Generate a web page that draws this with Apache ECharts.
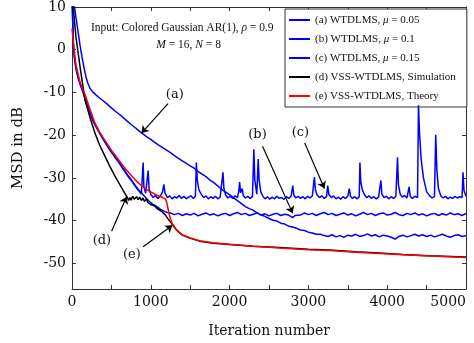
<!DOCTYPE html>
<html><head><meta charset="utf-8">
<script src="https://cdn.jsdelivr.net/npm/echarts@6/dist/echarts.min.js"></script>
<style>html,body{margin:0;padding:0;background:#fff}#c{width:474px;height:343px}</style>
</head><body><div id="c"></div>
<script>
const seriesNames = ['(a) WTDLMS, μ = 0.05', '(b) WTDLMS, μ = 0.1', '(c) WTDLMS, μ = 0.15', '(d) VSS-WTDLMS, Simulation', '(e) VSS-WTDLMS, Theory'];

// (a) WTDLMS mu = 0.05  [iteration, MSD dB]
const msdA = [[0,13],[25,11],[50,7.5],[75,4.5],[100,1.3],[125,-1.5],[150,-4],[175,-6.2],[200,-7.8],[228,-9],[260,-9.8],[300,-10.5],[350,-11.3],[400,-12],[450,-12.8],[500,-13.6],[550,-14.4],[600,-15.1],[650,-15.9],[700,-16.7],[750,-17.5],[800,-18.2],[850,-19],[900,-19.7],[950,-20.4],[1000,-21],[1050,-21.7],[1100,-22.3],[1150,-22.9],[1200,-23.5],[1250,-24.1],[1300,-24.8],[1350,-25.4],[1400,-26],[1450,-26.6],[1500,-27.2],[1550,-27.7],[1600,-28.5],[1650,-29.1],[1700,-29.7],[1750,-30.5],[1800,-31.1],[1850,-31.9],[1900,-32.7],[1950,-33.3],[2000,-33.9],[2050,-34.7],[2100,-35.3],[2150,-36],[2200,-36.7],[2250,-37.2],[2300,-37.6],[2350,-38.2],[2400,-38.7],[2450,-39],[2500,-39.5],[2550,-39.9],[2600,-40.1],[2650,-40.6],[2700,-40.8],[2750,-41.3],[2800,-41.5],[2850,-41.8],[2900,-42.2],[2950,-42.3],[3000,-42.7],[3050,-42.9],[3100,-43.2],[3150,-43.2],[3200,-43.5],[3250,-43.7],[3300,-43.3],[3350,-43.8],[3400,-43.5],[3450,-43.9],[3500,-43.4],[3550,-43.6],[3600,-43.2],[3650,-43.7],[3700,-43.5],[3750,-43.1],[3800,-43.6],[3850,-43.3],[3900,-43.8],[3950,-43.4],[4000,-43.6],[4050,-43.9],[4100,-44.3],[4150,-43.7],[4200,-43.4],[4250,-43.8],[4300,-43.5],[4350,-43.2],[4400,-43.6],[4450,-43.3],[4500,-43.7],[4550,-43.4],[4600,-43.8],[4650,-43.5],[4700,-43.2],[4750,-43.6],[4800,-43.9],[4850,-43.5],[4900,-43.3],[4950,-43.7],[5000,-43.5]];

// (b) WTDLMS mu = 0.1
const msdB = [[0,13],[8,7.5],[17,2],[30,-1.5],[50,-4],[80,-6.5],[110,-8.2],[140,-9.8],[170,-11.5],[200,-13.2],[230,-14.8],[260,-16.2],[291,-17.4],[330,-18.7],[370,-20],[418,-21.5],[460,-22.7],[500,-23.8],[550,-25.1],[586,-26],[630,-27.2],[670,-28.3],[710,-29.4],[755,-30.5],[790,-31.4],[820,-32.2],[850,-32.9],[880,-33.5],[910,-34.1],[940,-34.7],[970,-35.3],[1000,-35.8],[1030,-36.2],[1060,-36.5],[1090,-36.9],[1120,-37.3],[1150,-37.6],[1180,-37.9],[1210,-38.1],[1250,-38.2],[1300,-38.6],[1350,-38.3],[1400,-38.8],[1450,-38.4],[1500,-38.7],[1550,-38.3],[1600,-38.9],[1650,-38.5],[1700,-38.2],[1750,-38.7],[1800,-38.4],[1850,-38.9],[1900,-38.5],[1950,-38.3],[2000,-38.8],[2050,-38.4],[2100,-38.1],[2150,-38.6],[2200,-38.3],[2250,-38.8],[2300,-38.5],[2350,-38.2],[2400,-38.7],[2450,-38.4],[2500,-38.9],[2550,-38.5],[2600,-38.3],[2650,-38.8],[2700,-38.5],[2750,-38.7],[2800,-39.3],[2830,-38.8],[2850,-38.4],[2900,-38.7],[2950,-38.2],[3000,-38.6],[3050,-38.3],[3100,-38.8],[3150,-38.4],[3200,-38.1],[3250,-38.6],[3300,-38.3],[3350,-38.8],[3400,-38.5],[3450,-38.2],[3500,-38.7],[3550,-38.4],[3600,-38.9],[3650,-38.5],[3700,-38.1],[3750,-38.6],[3800,-38.3],[3850,-38.8],[3900,-38.4],[3950,-38.2],[4000,-38.7],[4050,-38.5],[4100,-38.1],[4150,-38.6],[4200,-38.8],[4250,-38.3],[4300,-38.6],[4350,-38.2],[4400,-38.7],[4450,-38.4],[4500,-38.9],[4550,-38.5],[4600,-38.3],[4650,-38.8],[4700,-38.4],[4750,-38.7],[4800,-38.2],[4850,-38.6],[4900,-38.4],[4950,-38.8],[5000,-38.3]];

// (c) WTDLMS mu = 0.15
const msdC = [[0,13],[8,7],[17,1],[30,-2],[50,-4.5],[80,-6.8],[110,-8.5],[140,-10],[170,-11.8],[200,-13.5],[230,-15],[260,-16.4],[291,-17.6],[330,-18.9],[370,-20.2],[418,-21.7],[460,-22.9],[500,-24],[550,-25.3],[586,-26.2],[630,-27.4],[670,-28.5],[710,-29.6],[755,-30.7],[790,-31.6],[820,-32.4],[850,-33.1],[880,-33.8],[903,-26.4],[912,-32],[935,-33.6],[966,-28.3],[978,-32.5],[1000,-33.9],[1030,-34.6],[1060,-34.1],[1090,-34.8],[1120,-34.3],[1150,-33.2],[1165,-31.5],[1180,-33.5],[1210,-34.6],[1240,-34.2],[1270,-34.9],[1300,-34.4],[1330,-34.7],[1360,-34.1],[1390,-34.8],[1420,-34.3],[1450,-34.9],[1480,-34.5],[1510,-34.2],[1540,-34.8],[1566,-34.3],[1578,-26.4],[1590,-30.5],[1610,-32.8],[1640,-33.8],[1670,-34.6],[1700,-34.2],[1730,-34.9],[1760,-34.4],[1790,-34.8],[1820,-34.3],[1850,-34.9],[1880,-34.5],[1905,-34.2],[1916,-28.7],[1928,-32.5],[1950,-34],[1980,-34.7],[2010,-34.3],[2040,-34.8],[2070,-34.2],[2100,-34.6],[2118,-33],[2127,-31],[2140,-33.5],[2160,-32.5],[2175,-34.2],[2200,-34.7],[2230,-34.3],[2260,-34.8],[2290,-34.4],[2308,-23.3],[2320,-30.5],[2345,-33.8],[2363,-25.6],[2375,-30.5],[2395,-33.2],[2420,-34.2],[2450,-34.9],[2480,-34.4],[2510,-35],[2540,-34.5],[2570,-34.9],[2600,-34.3],[2630,-34.8],[2660,-34.6],[2690,-35],[2720,-34.4],[2750,-34.8],[2780,-34.3],[2802,-31.8],[2815,-34],[2840,-34.7],[2870,-34.3],[2900,-34.8],[2930,-34.4],[2960,-34.9],[2990,-34.3],[3020,-34.7],[3050,-34.2],[3076,-29.8],[3090,-32.8],[3110,-34],[3140,-34.6],[3170,-34.2],[3200,-34.8],[3230,-34.4],[3245,-31.8],[3260,-33.9],[3290,-34.6],[3320,-34.2],[3350,-34.9],[3380,-34.5],[3410,-35],[3440,-34.4],[3470,-34.8],[3500,-34.3],[3519,-32.5],[3535,-34.3],[3560,-34.8],[3590,-34.4],[3620,-34.9],[3645,-34.4],[3654,-26.4],[3665,-31],[3685,-32.8],[3710,-33.9],[3740,-34.6],[3770,-34.2],[3800,-34.8],[3830,-34.4],[3860,-34.9],[3890,-34.5],[3910,-34.3],[3920,-30.6],[3932,-33.8],[3960,-34.6],[3990,-34.3],[4020,-34.9],[4050,-34.4],[4080,-34.8],[4110,-34.3],[4131,-25.2],[4142,-31.5],[4165,-33.8],[4190,-34.5],[4220,-34.1],[4250,-34.7],[4278,-32.1],[4292,-34.3],[4320,-34.8],[4350,-34.3],[4385,-34.6],[4397,-13],[4410,-19.5],[4430,-25.5],[4460,-30],[4500,-33.2],[4540,-34.2],[4570,-34.7],[4600,-34.3],[4616,-19.9],[4630,-28],[4650,-32.5],[4680,-34.2],[4710,-34.7],[4740,-34.3],[4770,-34.9],[4800,-34.5],[4830,-34.8],[4860,-34.3],[4890,-34.7],[4920,-34.4],[4950,-34.6],[4962,-28.7],[4975,-33],[5000,-34.3]];

// (d) VSS-WTDLMS simulation
const msdD = [[0,13],[20,9],[50,3],[80,-1],[110,-5],[143,-9],[165,-11.8],[230,-16],[291,-19.5],[350,-22.3],[418,-24.9],[480,-27.3],[544,-29.5],[608,-31.6],[650,-33],[671,-33.6],[700,-34.5],[720,-35.3],[734,-34.6],[750,-35.2],[770,-34.3],[790,-35],[819,-34.4],[840,-35.1],[860,-34.5],[880,-35.3],[900,-34.7],[920,-35.5],[945,-34.9],[965,-35.8],[987,-35.5],[1005,-36.3],[1029,-35.9],[1050,-36.6],[1070,-36.5],[1090,-37.3],[1114,-37],[1135,-37.8],[1160,-37.7],[1180,-38.6],[1199,-38.6],[1220,-39.6],[1240,-39.3],[1270,-40.8],[1325,-42.2],[1400,-43.4],[1494,-44.1],[1620,-44.8],[1789,-45.3],[2000,-45.6],[2300,-46],[2633,-46.3],[3000,-46.7],[3266,-46.9],[3600,-47.3],[3899,-47.6],[4200,-47.9],[4532,-48.2],[5000,-48.5]];

// (e) VSS-WTDLMS theory
const msdE = [[0,5],[20,1],[50,-3.5],[100,-7.5],[165,-10.5],[230,-14],[291,-17.2],[350,-19.3],[418,-21.2],[500,-23.5],[586,-25.6],[670,-27.7],[755,-29.5],[830,-31],[903,-32.1],[980,-33.1],[1072,-34],[1150,-34.6],[1190,-35],[1205,-36],[1240,-39],[1270,-40.6],[1325,-42.1],[1400,-43.3],[1494,-44],[1620,-44.7],[1789,-45.2],[2000,-45.5],[2300,-46],[2633,-46.4],[3000,-46.8],[3266,-47],[3600,-47.4],[3899,-47.7],[4200,-48],[4532,-48.3],[5000,-48.6]];

const seriesData = [msdA, msdB, msdC, msdD, msdE];
const seriesColors = ['#0000ff', '#0000ff', '#0000ff', '#000000', '#ff0000'];

// annotation arrows: [from, to] in data coordinates
const arrows = [
  [[1219, -12.6], [882, -19.5]],
  [[2418, -22.6], [2801, -38.3]],
  [[2953, -21.8], [3203, -32.5]],
  [[503, -42.5], [692, -34.4]],
  [[903, -46.1], [1275, -41.1]]
];
const labelTexts = ['(a)', '(b)', '(c)', '(d)', '(e)'];
const labelAnchors = [[1304, -10.5], [2354, -19.9], [2899, -19.4], [380, -44.7], [760, -47.9]];

const tickFont = 'DejaVu Serif';
const textFont = 'Liberation Serif';
const axisColor = '#333';

const chart = echarts.init(document.getElementById('c'));

function baseAxis(extra) {
  return Object.assign({
    type: 'value',
    axisLine: { show: true, onZero: false, lineStyle: { color: axisColor, width: 1 } },
    axisTick: { show: true, inside: true, length: 4, lineStyle: { color: axisColor, width: 1 } },
    splitLine: { show: false }
  }, extra);
}

const option = {
  animation: false,
  backgroundColor: '#fff',
  grid: { left: 72, right: 8, top: 5, bottom: 51 },
  xAxis: [
    baseAxis({
      min: 0, max: 5000, interval: 500, position: 'bottom',
      axisLabel: { formatter: v => (v % 1000 === 0 ? String(v) : ''), color: '#111', fontFamily: tickFont, fontSize: 14, margin: 6, alignMaxLabel: 'right' },
      name: 'Iteration number', nameLocation: 'middle', nameGap: 35,
      nameTextStyle: { color: '#111', fontFamily: tickFont, fontSize: 14 }
    }),
    baseAxis({ min: 0, max: 5000, interval: 500, position: 'top', axisLabel: { show: false } })
  ],
  yAxis: [
    baseAxis({
      min: -56, max: 10, splitNumber: 6, position: 'left',
      axisLabel: { formatter: v => (v % 10 === 0 ? String(v) : ''), color: '#111', fontFamily: tickFont, fontSize: 14, margin: 6 },
      name: 'MSD in dB', nameLocation: 'middle', nameGap: 46, nameRotate: 90,
      nameTextStyle: { color: '#111', fontFamily: tickFont, fontSize: 15 }
    }),
    baseAxis({ min: -56, max: 10, splitNumber: 6, position: 'right', axisLabel: { show: false } })
  ],
  legend: {
    orient: 'vertical', left: 285, top: 9,
    backgroundColor: '#fff', borderColor: '#333', borderWidth: 1,
    padding: [5, 11, 5, 4], itemGap: 7,
    icon: 'rect', itemWidth: 21, itemHeight: 2,
    data: seriesNames,
    formatter: n => n.replace('μ', '{i|μ}'),
    textStyle: { fontFamily: textFont, fontSize: 11, color: '#111', lineHeight: 12,
      rich: { i: { fontFamily: textFont, fontSize: 11, fontStyle: 'italic', color: '#111' } } }
  },
  series: seriesData.map((d, i) => ({
    name: seriesNames[i], type: 'line', data: d, symbol: 'none',
    lineStyle: { color: seriesColors[i], width: 1.5 }, itemStyle: { color: seriesColors[i] },
    z: 2 + i, clip: true
  })).concat([{
    type: 'line', data: [], symbol: 'none', z: 10,
    markLine: {
      silent: true, symbol: ['none', 'arrow'], symbolSize: 7, animation: false,
      lineStyle: { color: '#000', width: 1.2, type: 'solid' }, label: { show: false },
      data: arrows.map(a => [{ coord: a[0] }, { coord: a[1] }])
    }
  }])
};
chart.setOption(option);

const graphics = labelTexts.map((t, i) => {
  const p = chart.convertToPixel({ gridIndex: 0 }, labelAnchors[i]);
  return { type: 'text', x: p[0], y: p[1], z: 20,
    style: { text: t, fill: '#111', font: '13px "DejaVu Serif"', align: 'center', verticalAlign: 'middle' } };
});
const p1 = chart.convertToPixel({ gridIndex: 0 }, [1400, 5.0]);
const p2 = chart.convertToPixel({ gridIndex: 0 }, [1480, 1.2]);
graphics.push({ type: 'text', x: p1[0], y: p1[1], z: 20,
  style: { text: 'Input: Colored Gaussian AR(1), {i|ρ} = 0.9', fill: '#111', font: '11.5px "Liberation Serif"', align: 'center', verticalAlign: 'middle',
    rich: { i: { fontStyle: 'italic', font: 'italic 11.5px "Liberation Serif"' } } } });
graphics.push({ type: 'text', x: p2[0], y: p2[1], z: 20,
  style: { text: '{i|M} = 16, {i|N} = 8', fill: '#111', font: '11.5px "Liberation Serif"', align: 'center', verticalAlign: 'middle',
    rich: { i: { fontStyle: 'italic', font: 'italic 11.5px "Liberation Serif"' } } } });
chart.setOption({ graphic: graphics });
</script>
</body></html>
